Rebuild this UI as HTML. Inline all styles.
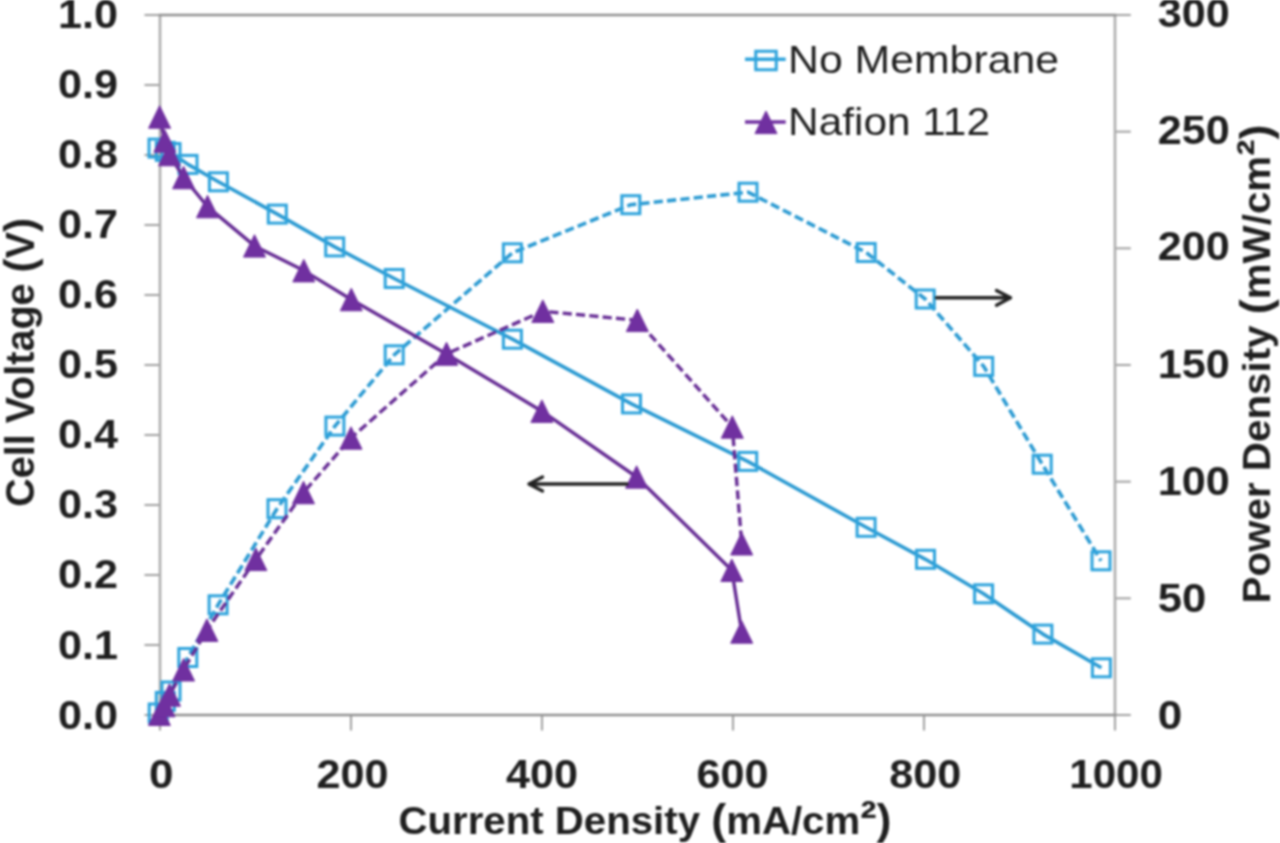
<!DOCTYPE html>
<html><head><meta charset="utf-8"><title>Cell Voltage and Power Density</title>
<style>
html,body{margin:0;padding:0;background:#ffffff;}
body{width:1280px;height:843px;overflow:hidden;}
svg{display:block;}
#c{filter:blur(1px);width:1280px;height:843px;}
</style></head>
<body>
<div id="c">
<svg width="1280" height="843" viewBox="0 0 1280 843">
<rect x="0" y="0" width="1280" height="843" fill="#ffffff"/>
<g fill="none" stroke-linecap="butt">
<line x1="144.5" y1="715.0" x2="160.0" y2="715.0" stroke="#A0A0A0" stroke-width="2"/>
<line x1="144.5" y1="645.0" x2="160.0" y2="645.0" stroke="#A0A0A0" stroke-width="2"/>
<line x1="144.5" y1="575.0" x2="160.0" y2="575.0" stroke="#A0A0A0" stroke-width="2"/>
<line x1="144.5" y1="505.0" x2="160.0" y2="505.0" stroke="#A0A0A0" stroke-width="2"/>
<line x1="144.5" y1="435.0" x2="160.0" y2="435.0" stroke="#A0A0A0" stroke-width="2"/>
<line x1="144.5" y1="365.0" x2="160.0" y2="365.0" stroke="#A0A0A0" stroke-width="2"/>
<line x1="144.5" y1="295.0" x2="160.0" y2="295.0" stroke="#A0A0A0" stroke-width="2"/>
<line x1="144.5" y1="225.0" x2="160.0" y2="225.0" stroke="#A0A0A0" stroke-width="2"/>
<line x1="144.5" y1="155.0" x2="160.0" y2="155.0" stroke="#A0A0A0" stroke-width="2"/>
<line x1="144.5" y1="85.0" x2="160.0" y2="85.0" stroke="#A0A0A0" stroke-width="2"/>
<line x1="144.5" y1="15.0" x2="160.0" y2="15.0" stroke="#A0A0A0" stroke-width="2"/>
<line x1="1115.0" y1="715.00" x2="1130.8" y2="715.00" stroke="#A0A0A0" stroke-width="2"/>
<line x1="1115.0" y1="598.33" x2="1130.8" y2="598.33" stroke="#A0A0A0" stroke-width="2"/>
<line x1="1115.0" y1="481.67" x2="1130.8" y2="481.67" stroke="#A0A0A0" stroke-width="2"/>
<line x1="1115.0" y1="365.00" x2="1130.8" y2="365.00" stroke="#A0A0A0" stroke-width="2"/>
<line x1="1115.0" y1="248.33" x2="1130.8" y2="248.33" stroke="#A0A0A0" stroke-width="2"/>
<line x1="1115.0" y1="131.67" x2="1130.8" y2="131.67" stroke="#A0A0A0" stroke-width="2"/>
<line x1="1115.0" y1="15.00" x2="1130.8" y2="15.00" stroke="#A0A0A0" stroke-width="2"/>
<line x1="160.0" y1="715.0" x2="160.0" y2="730.6" stroke="#A0A0A0" stroke-width="2"/>
<line x1="351.0" y1="715.0" x2="351.0" y2="730.6" stroke="#A0A0A0" stroke-width="2"/>
<line x1="542.0" y1="715.0" x2="542.0" y2="730.6" stroke="#A0A0A0" stroke-width="2"/>
<line x1="733.0" y1="715.0" x2="733.0" y2="730.6" stroke="#A0A0A0" stroke-width="2"/>
<line x1="924.0" y1="715.0" x2="924.0" y2="730.6" stroke="#A0A0A0" stroke-width="2"/>
<line x1="1115.0" y1="715.0" x2="1115.0" y2="730.6" stroke="#A0A0A0" stroke-width="2"/>
<line x1="160.0" y1="15.0" x2="160.0" y2="715.0" stroke="#ADADAD" stroke-width="2.6"/>
<line x1="1115.0" y1="15.0" x2="1115.0" y2="715.0" stroke="#ADADAD" stroke-width="2.6"/>
<line x1="158.7" y1="15.0" x2="1116.3" y2="15.0" stroke="#919191" stroke-width="2.6"/>
<line x1="158.7" y1="715.0" x2="1116.3" y2="715.0" stroke="#919191" stroke-width="2.6"/>
</g>
<polyline points="158.0,148.1 165.3,151.4 171.0,152.5 188.0,164.4 218.4,181.8 277.3,214.1 334.7,246.9 394.2,278.5 512.4,339.2 631.5,403.9 747.7,461.4 866.1,527.3 925.5,559.3 983.6,593.8 1042.9,634.1 1101.4,667.8" fill="none" stroke="#2B9AD2" stroke-width="3.6" stroke-linejoin="round"/>
<rect x="149.0" y="139.1" width="18.0" height="18.0" fill="none" stroke="#2EA3DC" stroke-width="3.0"/>
<rect x="156.3" y="142.4" width="18.0" height="18.0" fill="none" stroke="#2EA3DC" stroke-width="3.0"/>
<rect x="162.0" y="143.5" width="18.0" height="18.0" fill="none" stroke="#2EA3DC" stroke-width="3.0"/>
<rect x="179.0" y="155.4" width="18.0" height="18.0" fill="none" stroke="#2EA3DC" stroke-width="3.0"/>
<rect x="209.4" y="172.8" width="18.0" height="18.0" fill="none" stroke="#2EA3DC" stroke-width="3.0"/>
<rect x="268.3" y="205.1" width="18.0" height="18.0" fill="none" stroke="#2EA3DC" stroke-width="3.0"/>
<rect x="325.7" y="237.9" width="18.0" height="18.0" fill="none" stroke="#2EA3DC" stroke-width="3.0"/>
<rect x="385.2" y="269.5" width="18.0" height="18.0" fill="none" stroke="#2EA3DC" stroke-width="3.0"/>
<rect x="503.4" y="330.2" width="18.0" height="18.0" fill="none" stroke="#2EA3DC" stroke-width="3.0"/>
<rect x="622.5" y="394.9" width="18.0" height="18.0" fill="none" stroke="#2EA3DC" stroke-width="3.0"/>
<rect x="738.7" y="452.4" width="18.0" height="18.0" fill="none" stroke="#2EA3DC" stroke-width="3.0"/>
<rect x="857.1" y="518.3" width="18.0" height="18.0" fill="none" stroke="#2EA3DC" stroke-width="3.0"/>
<rect x="916.5" y="550.3" width="18.0" height="18.0" fill="none" stroke="#2EA3DC" stroke-width="3.0"/>
<rect x="974.6" y="584.8" width="18.0" height="18.0" fill="none" stroke="#2EA3DC" stroke-width="3.0"/>
<rect x="1033.9" y="625.1" width="18.0" height="18.0" fill="none" stroke="#2EA3DC" stroke-width="3.0"/>
<rect x="1092.4" y="658.8" width="18.0" height="18.0" fill="none" stroke="#2EA3DC" stroke-width="3.0"/>
<polyline points="158.2,713.0 165.3,701.4 171.0,691.0 187.8,657.5 218.1,604.8 277.0,508.7 334.9,426.1 394.2,354.8 512.4,252.8 630.8,204.7 748.0,192.2 866.2,252.5 925.2,299.0 983.7,366.4 1042.2,464.2 1101.0,560.8" fill="none" stroke="#2B9AD2" stroke-width="3.6" stroke-dasharray="9.2 4.2" stroke-linejoin="round"/>
<rect x="149.2" y="704.0" width="18.0" height="18.0" fill="none" stroke="#2EA3DC" stroke-width="3.0"/>
<rect x="156.3" y="692.4" width="18.0" height="18.0" fill="none" stroke="#2EA3DC" stroke-width="3.0"/>
<rect x="162.0" y="682.0" width="18.0" height="18.0" fill="none" stroke="#2EA3DC" stroke-width="3.0"/>
<rect x="178.8" y="648.5" width="18.0" height="18.0" fill="none" stroke="#2EA3DC" stroke-width="3.0"/>
<rect x="209.1" y="595.8" width="18.0" height="18.0" fill="none" stroke="#2EA3DC" stroke-width="3.0"/>
<rect x="268.0" y="499.7" width="18.0" height="18.0" fill="none" stroke="#2EA3DC" stroke-width="3.0"/>
<rect x="325.9" y="417.1" width="18.0" height="18.0" fill="none" stroke="#2EA3DC" stroke-width="3.0"/>
<rect x="385.2" y="345.8" width="18.0" height="18.0" fill="none" stroke="#2EA3DC" stroke-width="3.0"/>
<rect x="503.4" y="243.8" width="18.0" height="18.0" fill="none" stroke="#2EA3DC" stroke-width="3.0"/>
<rect x="621.8" y="195.7" width="18.0" height="18.0" fill="none" stroke="#2EA3DC" stroke-width="3.0"/>
<rect x="739.0" y="183.2" width="18.0" height="18.0" fill="none" stroke="#2EA3DC" stroke-width="3.0"/>
<rect x="857.2" y="243.5" width="18.0" height="18.0" fill="none" stroke="#2EA3DC" stroke-width="3.0"/>
<rect x="916.2" y="290.0" width="18.0" height="18.0" fill="none" stroke="#2EA3DC" stroke-width="3.0"/>
<rect x="974.7" y="357.4" width="18.0" height="18.0" fill="none" stroke="#2EA3DC" stroke-width="3.0"/>
<rect x="1033.2" y="455.2" width="18.0" height="18.0" fill="none" stroke="#2EA3DC" stroke-width="3.0"/>
<rect x="1092.0" y="551.8" width="18.0" height="18.0" fill="none" stroke="#2EA3DC" stroke-width="3.0"/>
<polyline points="159.6,116.9 164.8,141.0 169.5,154.5 183.6,177.5 207.5,206.6 254.5,245.9 303.8,270.6 351.3,299.5 446.5,353.9 541.9,411.2 636.6,477.0 731.8,570.3 741.7,632.0" fill="none" stroke="#662C94" stroke-width="3.4" stroke-linejoin="round"/>
<polygon points="159.6,105.7 170.6,128.2 148.6,128.2" fill="#7030A0" stroke="#7030A0" stroke-width="1" stroke-linejoin="miter"/>
<polygon points="164.8,129.8 175.8,152.2 153.8,152.2" fill="#7030A0" stroke="#7030A0" stroke-width="1" stroke-linejoin="miter"/>
<polygon points="169.5,143.2 180.5,165.8 158.5,165.8" fill="#7030A0" stroke="#7030A0" stroke-width="1" stroke-linejoin="miter"/>
<polygon points="183.6,166.2 194.6,188.8 172.6,188.8" fill="#7030A0" stroke="#7030A0" stroke-width="1" stroke-linejoin="miter"/>
<polygon points="207.5,195.3 218.5,217.8 196.5,217.8" fill="#7030A0" stroke="#7030A0" stroke-width="1" stroke-linejoin="miter"/>
<polygon points="254.5,234.7 265.5,257.1 243.5,257.1" fill="#7030A0" stroke="#7030A0" stroke-width="1" stroke-linejoin="miter"/>
<polygon points="303.8,259.4 314.8,281.9 292.8,281.9" fill="#7030A0" stroke="#7030A0" stroke-width="1" stroke-linejoin="miter"/>
<polygon points="351.3,288.2 362.3,310.8 340.3,310.8" fill="#7030A0" stroke="#7030A0" stroke-width="1" stroke-linejoin="miter"/>
<polygon points="446.5,342.6 457.5,365.1 435.5,365.1" fill="#7030A0" stroke="#7030A0" stroke-width="1" stroke-linejoin="miter"/>
<polygon points="541.9,399.9 552.9,422.4 530.9,422.4" fill="#7030A0" stroke="#7030A0" stroke-width="1" stroke-linejoin="miter"/>
<polygon points="636.6,465.8 647.6,488.2 625.6,488.2" fill="#7030A0" stroke="#7030A0" stroke-width="1" stroke-linejoin="miter"/>
<polygon points="731.8,559.0 742.8,581.5 720.8,581.5" fill="#7030A0" stroke="#7030A0" stroke-width="1" stroke-linejoin="miter"/>
<polygon points="741.7,620.8 752.7,643.2 730.7,643.2" fill="#7030A0" stroke="#7030A0" stroke-width="1" stroke-linejoin="miter"/>
<polyline points="159.4,714.3 164.0,705.5 169.5,695.0 183.6,669.7 206.9,630.1 255.9,559.4 303.5,492.5 351.0,438.0 446.5,353.9 542.8,311.2 637.3,320.3 732.3,427.0 741.7,543.7" fill="none" stroke="#662C94" stroke-width="3.4" stroke-dasharray="9.2 4.2" stroke-linejoin="round"/>
<polygon points="159.4,703.0 170.4,725.5 148.4,725.5" fill="#7030A0" stroke="#7030A0" stroke-width="1" stroke-linejoin="miter"/>
<polygon points="164.0,694.2 175.0,716.8 153.0,716.8" fill="#7030A0" stroke="#7030A0" stroke-width="1" stroke-linejoin="miter"/>
<polygon points="169.5,683.8 180.5,706.2 158.5,706.2" fill="#7030A0" stroke="#7030A0" stroke-width="1" stroke-linejoin="miter"/>
<polygon points="183.6,658.5 194.6,681.0 172.6,681.0" fill="#7030A0" stroke="#7030A0" stroke-width="1" stroke-linejoin="miter"/>
<polygon points="206.9,618.9 217.9,641.4 195.9,641.4" fill="#7030A0" stroke="#7030A0" stroke-width="1" stroke-linejoin="miter"/>
<polygon points="255.9,548.1 266.9,570.6 244.9,570.6" fill="#7030A0" stroke="#7030A0" stroke-width="1" stroke-linejoin="miter"/>
<polygon points="303.5,481.2 314.5,503.8 292.5,503.8" fill="#7030A0" stroke="#7030A0" stroke-width="1" stroke-linejoin="miter"/>
<polygon points="351.0,426.8 362.0,449.2 340.0,449.2" fill="#7030A0" stroke="#7030A0" stroke-width="1" stroke-linejoin="miter"/>
<polygon points="446.5,342.6 457.5,365.1 435.5,365.1" fill="#7030A0" stroke="#7030A0" stroke-width="1" stroke-linejoin="miter"/>
<polygon points="542.8,299.9 553.8,322.4 531.8,322.4" fill="#7030A0" stroke="#7030A0" stroke-width="1" stroke-linejoin="miter"/>
<polygon points="637.3,309.1 648.3,331.6 626.3,331.6" fill="#7030A0" stroke="#7030A0" stroke-width="1" stroke-linejoin="miter"/>
<polygon points="732.3,415.8 743.3,438.2 721.3,438.2" fill="#7030A0" stroke="#7030A0" stroke-width="1" stroke-linejoin="miter"/>
<polygon points="741.7,532.5 752.7,555.0 730.7,555.0" fill="#7030A0" stroke="#7030A0" stroke-width="1" stroke-linejoin="miter"/>
<g fill="none" stroke="#222222" stroke-width="3.4" stroke-linecap="round" stroke-linejoin="round">
<line x1="936.5" y1="297.8" x2="1010" y2="297.8"/>
<polyline points="996.5,290.5 1010.5,297.8 996.5,305.2"/>
<line x1="529.5" y1="484" x2="627" y2="484"/>
<polyline points="542.5,477 529,484 542.5,491"/>
</g>
<line x1="745" y1="59.2" x2="785.7" y2="59.2" stroke="#2EA3DC" stroke-width="3.6"/>
<rect x="755.75" y="51.25" width="20.5" height="18.5" fill="none" stroke="#2EA3DC" stroke-width="3.0"/>
<line x1="745" y1="122" x2="785.7" y2="122" stroke="#7030A0" stroke-width="3.4"/>
<polygon points="766.0,111.0 777.0,133.6 755.0,133.6" fill="#7030A0" stroke="#7030A0" stroke-width="1" stroke-linejoin="miter"/>
<text x="118" y="728.6" text-anchor="end" style="font-family:'Liberation Sans',Arial,sans-serif;font-weight:bold;font-size:40px" fill="#1F1F1F" textLength="60" lengthAdjust="spacingAndGlyphs">0.0</text>
<text x="118" y="658.5" text-anchor="end" style="font-family:'Liberation Sans',Arial,sans-serif;font-weight:bold;font-size:40px" fill="#1F1F1F" textLength="60" lengthAdjust="spacingAndGlyphs">0.1</text>
<text x="118" y="588.4" text-anchor="end" style="font-family:'Liberation Sans',Arial,sans-serif;font-weight:bold;font-size:40px" fill="#1F1F1F" textLength="60" lengthAdjust="spacingAndGlyphs">0.2</text>
<text x="118" y="518.4" text-anchor="end" style="font-family:'Liberation Sans',Arial,sans-serif;font-weight:bold;font-size:40px" fill="#1F1F1F" textLength="60" lengthAdjust="spacingAndGlyphs">0.3</text>
<text x="118" y="448.3" text-anchor="end" style="font-family:'Liberation Sans',Arial,sans-serif;font-weight:bold;font-size:40px" fill="#1F1F1F" textLength="60" lengthAdjust="spacingAndGlyphs">0.4</text>
<text x="118" y="378.2" text-anchor="end" style="font-family:'Liberation Sans',Arial,sans-serif;font-weight:bold;font-size:40px" fill="#1F1F1F" textLength="60" lengthAdjust="spacingAndGlyphs">0.5</text>
<text x="118" y="308.1" text-anchor="end" style="font-family:'Liberation Sans',Arial,sans-serif;font-weight:bold;font-size:40px" fill="#1F1F1F" textLength="60" lengthAdjust="spacingAndGlyphs">0.6</text>
<text x="118" y="238.0" text-anchor="end" style="font-family:'Liberation Sans',Arial,sans-serif;font-weight:bold;font-size:40px" fill="#1F1F1F" textLength="60" lengthAdjust="spacingAndGlyphs">0.7</text>
<text x="118" y="168.0" text-anchor="end" style="font-family:'Liberation Sans',Arial,sans-serif;font-weight:bold;font-size:40px" fill="#1F1F1F" textLength="60" lengthAdjust="spacingAndGlyphs">0.8</text>
<text x="118" y="97.9" text-anchor="end" style="font-family:'Liberation Sans',Arial,sans-serif;font-weight:bold;font-size:40px" fill="#1F1F1F" textLength="60" lengthAdjust="spacingAndGlyphs">0.9</text>
<text x="118" y="27.8" text-anchor="end" style="font-family:'Liberation Sans',Arial,sans-serif;font-weight:bold;font-size:40px" fill="#1F1F1F" textLength="60" lengthAdjust="spacingAndGlyphs">1.0</text>
<text x="1157.8" y="729.2" text-anchor="start" style="font-family:'Liberation Sans',Arial,sans-serif;font-weight:bold;font-size:40px" fill="#1F1F1F" textLength="24.5" lengthAdjust="spacingAndGlyphs">0</text>
<text x="1157.8" y="612.2" text-anchor="start" style="font-family:'Liberation Sans',Arial,sans-serif;font-weight:bold;font-size:40px" fill="#1F1F1F" textLength="48.5" lengthAdjust="spacingAndGlyphs">50</text>
<text x="1157.8" y="495.0" text-anchor="start" style="font-family:'Liberation Sans',Arial,sans-serif;font-weight:bold;font-size:40px" fill="#1F1F1F" textLength="72" lengthAdjust="spacingAndGlyphs">100</text>
<text x="1157.8" y="377.7" text-anchor="start" style="font-family:'Liberation Sans',Arial,sans-serif;font-weight:bold;font-size:40px" fill="#1F1F1F" textLength="72" lengthAdjust="spacingAndGlyphs">150</text>
<text x="1157.8" y="260.2" text-anchor="start" style="font-family:'Liberation Sans',Arial,sans-serif;font-weight:bold;font-size:40px" fill="#1F1F1F" textLength="72" lengthAdjust="spacingAndGlyphs">200</text>
<text x="1157.8" y="143.8" text-anchor="start" style="font-family:'Liberation Sans',Arial,sans-serif;font-weight:bold;font-size:40px" fill="#1F1F1F" textLength="72" lengthAdjust="spacingAndGlyphs">250</text>
<text x="1157.8" y="26.8" text-anchor="start" style="font-family:'Liberation Sans',Arial,sans-serif;font-weight:bold;font-size:40px" fill="#1F1F1F" textLength="72" lengthAdjust="spacingAndGlyphs">300</text>
<text x="161.2" y="788.3" text-anchor="middle" style="font-family:'Liberation Sans',Arial,sans-serif;font-weight:bold;font-size:40px" fill="#1F1F1F" textLength="24.5" lengthAdjust="spacingAndGlyphs">0</text>
<text x="352.6" y="788.3" text-anchor="middle" style="font-family:'Liberation Sans',Arial,sans-serif;font-weight:bold;font-size:40px" fill="#1F1F1F" textLength="72" lengthAdjust="spacingAndGlyphs">200</text>
<text x="542.0" y="788.3" text-anchor="middle" style="font-family:'Liberation Sans',Arial,sans-serif;font-weight:bold;font-size:40px" fill="#1F1F1F" textLength="72" lengthAdjust="spacingAndGlyphs">400</text>
<text x="732.4" y="788.3" text-anchor="middle" style="font-family:'Liberation Sans',Arial,sans-serif;font-weight:bold;font-size:40px" fill="#1F1F1F" textLength="72" lengthAdjust="spacingAndGlyphs">600</text>
<text x="925.2" y="788.3" text-anchor="middle" style="font-family:'Liberation Sans',Arial,sans-serif;font-weight:bold;font-size:40px" fill="#1F1F1F" textLength="72" lengthAdjust="spacingAndGlyphs">800</text>
<text x="1116.0" y="788.3" text-anchor="middle" style="font-family:'Liberation Sans',Arial,sans-serif;font-weight:bold;font-size:40px" fill="#1F1F1F" textLength="93.5" lengthAdjust="spacingAndGlyphs">1000</text>
<text x="398.5" y="833.5" text-anchor="start" style="font-family:'Liberation Sans',Arial,sans-serif;font-weight:bold;font-size:38.5px" fill="#1F1F1F" textLength="493" lengthAdjust="spacingAndGlyphs">Current Density <tspan style="font-size:43px">(</tspan>mA/cm<tspan style="font-size:47px">²</tspan><tspan style="font-size:43px">)</tspan></text>
<g transform="translate(34.2,506.8) rotate(-90)"><text x="0" y="0" text-anchor="start" style="font-family:'Liberation Sans',Arial,sans-serif;font-weight:bold;font-size:40px" fill="#1F1F1F" textLength="289" lengthAdjust="spacingAndGlyphs">Cell Voltage <tspan style="font-size:43px">(</tspan>V<tspan style="font-size:43px">)</tspan></text></g>
<g transform="translate(1269.5,603.5) rotate(-90)"><text x="0" y="0" text-anchor="start" style="font-family:'Liberation Sans',Arial,sans-serif;font-weight:bold;font-size:38.7px" fill="#1F1F1F" textLength="479" lengthAdjust="spacingAndGlyphs">Power Density <tspan style="font-size:43px">(</tspan>mW/cm<tspan style="font-size:47px">²</tspan><tspan style="font-size:43px">)</tspan></text></g>
<text x="788" y="72.6" text-anchor="start" style="font-family:'Liberation Sans',Arial,sans-serif;font-weight:normal;font-size:39.5px" fill="#1F1F1F" textLength="271" lengthAdjust="spacingAndGlyphs">No Membrane</text>
<text x="788" y="135" text-anchor="start" style="font-family:'Liberation Sans',Arial,sans-serif;font-weight:normal;font-size:39.5px" fill="#1F1F1F" textLength="202" lengthAdjust="spacingAndGlyphs">Nafion 112</text>
</svg>
</div>
</body></html>
